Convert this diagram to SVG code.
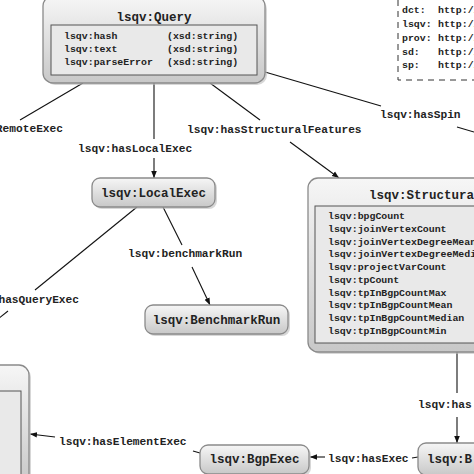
<svg xmlns="http://www.w3.org/2000/svg" width="474" height="474" viewBox="0 0 474 474">
<defs>
<linearGradient id="g" x1="0" y1="0" x2="0" y2="1">
<stop offset="0" stop-color="#f6f6f6"/>
<stop offset="1" stop-color="#c8c8c8"/>
</linearGradient>
<marker id="ah" viewBox="0 0 10 10" refX="10" refY="5" markerWidth="7" markerHeight="7" orient="auto" markerUnits="userSpaceOnUse">
<path d="M0,1 L10,5 L0,9 Z" fill="#111"/>
</marker>
</defs>
<style>
.node{fill:url(#g);stroke:#8a8a8a;stroke-width:1.3}
.shadow{fill:#bdbdbd;opacity:0.6}
.inner{fill:#e9e9e9;stroke:#555;stroke-width:1}
.title{font-family:"Liberation Mono","DejaVu Sans Mono",monospace;font-size:12.5px;font-weight:bold;fill:#222}
.lbl{font-family:"Liberation Mono","DejaVu Sans Mono",monospace;font-size:11.2px;font-weight:bold;fill:#222}
.lst{font-family:"Liberation Mono","DejaVu Sans Mono",monospace;font-size:9.9px;font-weight:bold;fill:#222}
.edge{stroke:#111;stroke-width:1.1;fill:none}
.arr{stroke:#111;stroke-width:1.1;fill:none;marker-end:url(#ah)}
</style>
<rect width="474" height="474" fill="#fff"/>

<g id="namespaces">
<path d="M398,0 V80 H474" fill="none" stroke="#333" stroke-width="1" stroke-dasharray="6,5"/>
<text class="lst" x="402" y="13">dct:</text><text class="lst" x="438" y="13">http://</text>
<text class="lst" x="402" y="27">lsqv:</text><text class="lst" x="438" y="27">http://</text>
<text class="lst" x="402" y="41">prov:</text><text class="lst" x="438" y="41">http://</text>
<text class="lst" x="402" y="55">sd:</text><text class="lst" x="438" y="55">http://</text>
<text class="lst" x="402" y="68">sp:</text><text class="lst" x="438" y="68">http://</text>
</g>

<g id="connectors">
<line class="edge" x1="83" y1="83" x2="20" y2="120"/>
<text class="lbl" x="63" y="132" text-anchor="end">lsqv:hasRemoteExec</text>
<line class="edge" x1="154" y1="83" x2="154" y2="139"/>
<text class="lbl" x="78" y="152">lsqv:hasLocalExec</text>
<line class="arr" x1="154" y1="158" x2="154" y2="178"/>
<line class="edge" x1="210" y1="83" x2="260" y2="120"/>
<text class="lbl" x="187" y="133">lsqv:hasStructuralFeatures</text>
<line class="arr" x1="290" y1="142" x2="339" y2="178"/>
<line class="edge" x1="265" y1="72" x2="381" y2="106"/>
<text class="lbl" x="380" y="118">lsqv:hasSpin</text>
<line class="edge" x1="457" y1="127" x2="474" y2="132"/>
<line class="edge" x1="137" y1="207" x2="35" y2="290"/>
<text class="lbl" x="79" y="303" text-anchor="end">lsqv:hasQueryExec</text>
<line class="edge" x1="8" y1="311" x2="-2" y2="319"/>
<line class="edge" x1="163" y1="207" x2="182" y2="245"/>
<text class="lbl" x="128" y="257">lsqv:benchmarkRun</text>
<line class="arr" x1="192" y1="267" x2="210" y2="305"/>
<line class="edge" x1="457" y1="352" x2="457" y2="393"/>
<text class="lbl" x="418" y="408">lsqv:has</text>
<line class="arr" x1="457" y1="417" x2="457" y2="443"/>
<line class="arr" x1="325" y1="457" x2="310" y2="457"/>
<text class="lbl" x="328" y="462">lsqv:hasExec</text>
<line class="edge" x1="412" y1="458" x2="418" y2="457"/>
<line class="arr" x1="55" y1="437" x2="30" y2="434"/>
<text class="lbl" x="59" y="445">lsqv:hasElementExec</text>
<line class="edge" x1="193" y1="451" x2="200" y2="453"/>
</g>

<g id="query">
<rect class="shadow" x="45" y="-1" width="222" height="86" rx="10"/>
<rect class="node" x="43" y="-4" width="222" height="87" rx="10"/>
<text class="title" x="154" y="21" text-anchor="middle">lsqv:Query</text>
<rect class="inner" x="51" y="25" width="206" height="50"/>
<text class="lst" x="64" y="39">lsqv:hash</text><text class="lst" x="167" y="39">(xsd:string)</text>
<text class="lst" x="64" y="52">lsqv:text</text><text class="lst" x="167" y="52">(xsd:string)</text>
<text class="lst" x="64" y="65">lsqv:parseError</text><text class="lst" x="167" y="65">(xsd:string)</text>
</g>

<g id="localexec">
<rect class="shadow" x="94" y="180" width="123" height="29" rx="8"/>
<rect class="node" x="92" y="178" width="123" height="29" rx="8"/>
<text class="title" x="153.5" y="197" text-anchor="middle">lsqv:LocalExec</text>
</g>

<g id="benchmarkrun">
<rect class="shadow" x="147" y="307" width="143" height="29" rx="8"/>
<rect class="node" x="145" y="305" width="143" height="29" rx="8"/>
<text class="title" x="216.5" y="324" text-anchor="middle">lsqv:BenchmarkRun</text>
</g>

<g id="structuralfeatures">
<rect class="shadow" x="310" y="180" width="300" height="174" rx="10"/>
<rect class="node" x="308" y="178" width="300" height="174" rx="10"/>
<text class="title" x="369" y="199">lsqv:Structura</text>
<rect class="inner" x="315" y="206" width="286" height="137"/>
<text class="lst" x="328" y="219">lsqv:bpgCount</text>
<text class="lst" x="328" y="232">lsqv:joinVertexCount</text>
<text class="lst" x="328" y="245">lsqv:joinVertexDegreeMean</text>
<text class="lst" x="328" y="257">lsqv:joinVertexDegreeMedi</text>
<text class="lst" x="328" y="270">lsqv:projectVarCount</text>
<text class="lst" x="328" y="283">lsqv:tpCount</text>
<text class="lst" x="328" y="296">lsqv:tpInBgpCountMax</text>
<text class="lst" x="328" y="308">lsqv:tpInBgpCountMean</text>
<text class="lst" x="328" y="321">lsqv:tpInBgpCountMedian</text>
<text class="lst" x="328" y="334">lsqv:tpInBgpCountMin</text>
</g>

<g id="elementexec">
<rect class="shadow" x="-70" y="367" width="101" height="120" rx="10"/>
<rect class="node" x="-72" y="365" width="101" height="120" rx="10"/>
<rect class="inner" x="-70" y="391" width="91" height="90"/>
</g>

<g id="bgpexec">
<rect class="shadow" x="202" y="447" width="109" height="29" rx="8"/>
<rect class="node" x="200" y="445" width="109" height="29" rx="8"/>
<text class="title" x="254.5" y="463" text-anchor="middle">lsqv:BgpExec</text>
</g>

<g id="bgp">
<rect class="shadow" x="420" y="445" width="80" height="32" rx="8"/>
<rect class="node" x="418" y="443" width="80" height="32" rx="8"/>
<text class="title" x="427" y="463">lsqv:B</text>
</g>
</svg>
